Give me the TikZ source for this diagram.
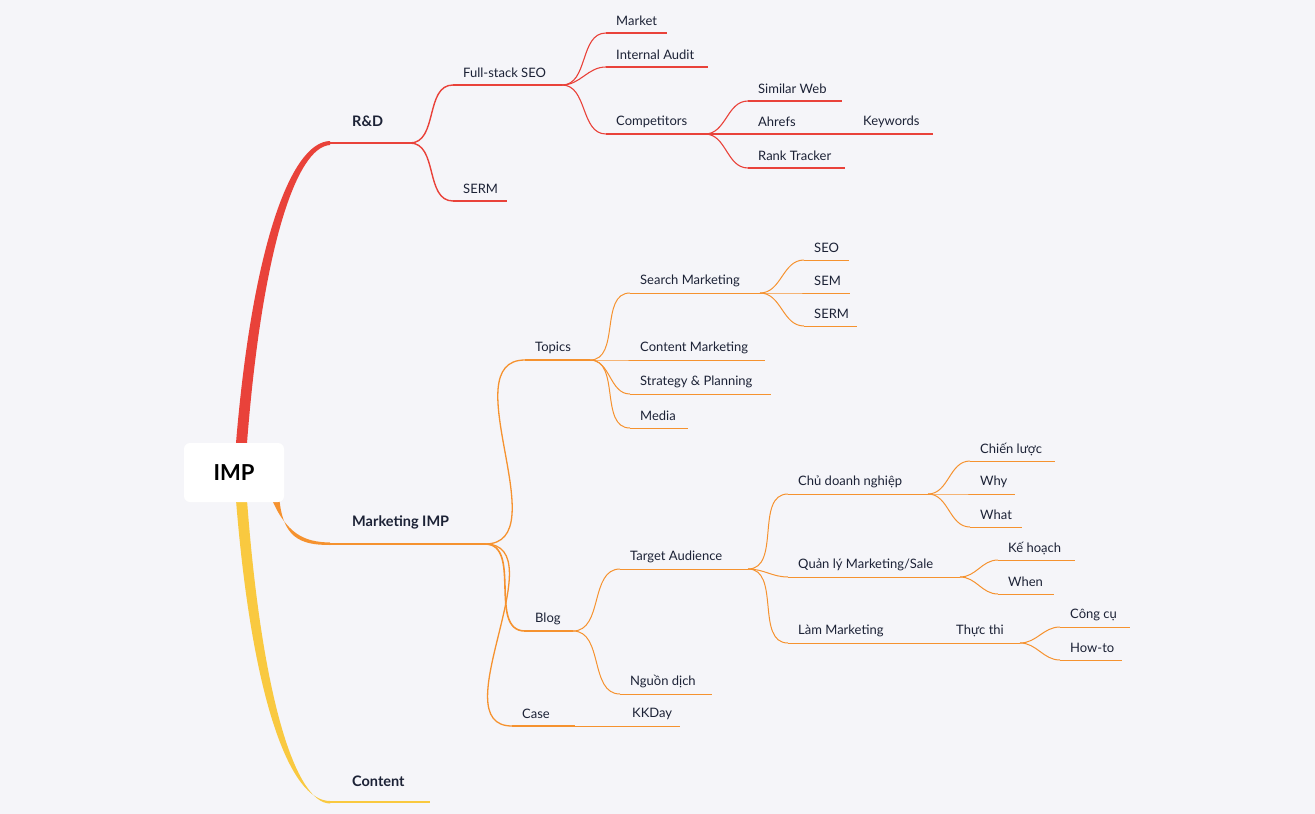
\documentclass[tikz,border=0pt]{standalone}
\usepackage{fontspec}
\setmainfont{Lato}
\definecolor{bg}{HTML}{F5F5F9}
\definecolor{rd}{HTML}{E9423A}
\definecolor{og}{HTML}{F5922F}
\definecolor{yl}{HTML}{F9C940}
\definecolor{tx}{HTML}{1C2236}
\tikzset{txt/.style={inner sep=0pt,font=\fontsize{13}{15}\selectfont,text=tx},
 big/.style={inner sep=0pt,font=\fontsize{14.5}{17}\selectfont\bfseries,text=tx},
 cr/.style={rd,line width=1.1pt},
 co/.style={og,line width=1pt}}
\newcommand\br[7]{\coordinate (#1-s) at (#2,#4); \coordinate (#1-e) at (#3,#4);
 \draw[#6,line width=#7] (#1-s)--(#1-e);
 \node[anchor=west,txt] (#1) at (#2+10,#4-12) {#5};}
\newcommand\cn[3]{\draw[#3] (#1-e) to[out=0,in=180] (#2-s);}
\begin{document}
\begin{tikzpicture}[x=1pt,y=-1pt]
\fill[bg] (0,0) rectangle (1315,814);
\useasboundingbox (0,0) rectangle (1315,814);
% main branches
\fill[rd] (236,443) .. controls (252,250) and (290,142) .. (330,141) -- (330,145) .. controls (296,147) and (262,250) .. (247,443) -- cycle;
\fill[yl] (236,500) .. controls (252,700) and (290,801) .. (330,801) -- (330,803.5) .. controls (296,803) and (262,700) .. (247,500) -- cycle;
\fill[og] (270,495) .. controls (286,535) and (305,542) .. (330,542.5) -- (330,545) .. controls (300,545) and (282,538) .. (279,495) -- cycle;
\node[draw=none,fill=white,rounded corners=6pt,minimum width=100pt,minimum height=59pt,font=\fontsize{22}{26}\selectfont\bfseries,text=black] (imp) at (234,472.5) {IMP};
% R&D
\coordinate (rd-s) at (330,143); \coordinate (rd-e) at (410,143);
\draw[rd,line width=2pt] (rd-s)--(rd-e);
\node[anchor=west,big] (rd) at (352,121) {R\&D};
\br{fs}{453}{562}{85}{Full-stack SEO}{rd}{1.4pt}
\br{serm}{453}{507}{201}{SERM}{rd}{1.4pt}
\draw[rd,line width=1.4pt] (rd-e) to[out=0,in=180] (fs-s);
\draw[rd,line width=1.4pt] (rd-e) to[out=0,in=180] (serm-s);
\br{mk}{606}{667}{33}{Market}{rd}{1.1pt}
\br{ia}{606}{708}{67}{Internal Audit}{rd}{1.1pt}
\br{cp}{606}{705}{134}{Competitors}{rd}{1.1pt}
\cn{fs}{mk}{cr}\cn{fs}{ia}{cr}\cn{fs}{cp}{cr}
\br{sw}{748}{842}{101}{Similar Web}{rd}{1.1pt}
\br{ah}{748}{848}{134}{Ahrefs}{rd}{1.1pt}
\br{rt}{748}{845}{168}{Rank Tracker}{rd}{1.1pt}
\cn{cp}{sw}{cr}\cn{cp}{ah}{cr}\cn{cp}{rt}{cr}
\br{kw}{853}{933}{134}{Keywords}{rd}{1.1pt}
\draw[cr] (ah-e)--(kw-s);
% Marketing IMP
\coordinate (mi-s) at (330,544); \coordinate (mi-e) at (485,544);
\draw[og,line width=2pt] (mi-s)--(mi-e);
\node[anchor=west,big] (mi) at (352,522) {Marketing IMP};
\br{tp}{525}{590}{360}{Topics}{og}{1.3pt}
\br{bl}{525}{573}{631}{Blog}{og}{2pt}
\br{cs}{512}{575}{726}{Case}{og}{1.3pt}
\draw[og,line width=1.3pt] (mi-e) to[out=0,in=180] (tp-s);
\draw[og,line width=1.6pt] (mi-e) to[out=0,in=180] (bl-s);
\draw[og,line width=1.3pt] (mi-e) to[out=0,in=180] (cs-s);
\br{sm}{630}{760}{293}{Search Marketing}{og}{1pt}
\br{cm}{630}{765}{360}{Content Marketing}{og}{1pt}
\br{sp}{630}{771}{394}{Strategy \& Planning}{og}{1pt}
\br{md}{630}{688}{428}{Media}{og}{1pt}
\cn{tp}{sm}{co}\cn{tp}{cm}{co}\cn{tp}{sp}{co}\cn{tp}{md}{co}
\br{seo}{804}{849}{260}{SEO}{og}{1pt}
\br{sem}{804}{850}{293}{SEM}{og}{1pt}
\br{sm2}{804}{857}{326}{SERM}{og}{1pt}
\cn{sm}{seo}{co}\cn{sm}{sem}{co}\cn{sm}{sm2}{co}
\br{ta}{620}{748}{569}{Target Audience}{og}{1pt}
\br{nd}{620}{712}{694}{Nguồn dịch}{og}{1pt}
\cn{bl}{ta}{co}\cn{bl}{nd}{co}
\br{cd}{788}{928}{494}{Chủ doanh nghiệp}{og}{1pt}
\br{ql}{788}{960}{577}{Quản lý Marketing/Sale}{og}{1pt}
\br{lm}{788}{900}{643}{Làm Marketing}{og}{1pt}
\cn{ta}{cd}{co}\cn{ta}{ql}{co}\cn{ta}{lm}{co}
\br{cl}{970}{1055}{461}{Chiến lược}{og}{1pt}
\br{why}{970}{1015}{494}{Why}{og}{1pt}
\br{what}{970}{1022}{527}{What}{og}{1pt}
\cn{cd}{cl}{co}\cn{cd}{why}{co}\cn{cd}{what}{co}
\br{kh}{998}{1075}{560}{Kế hoạch}{og}{1pt}
\br{wh}{998}{1054}{594}{When}{og}{1pt}
\cn{ql}{kh}{co}\cn{ql}{wh}{co}
\br{tt}{946}{1020}{643}{Thực thi}{og}{1pt}
\draw[co] (lm-e)--(tt-s);
\br{cc}{1060}{1130}{627}{Công cụ}{og}{1pt}
\br{ht}{1060}{1122}{660}{How-to}{og}{1pt}
\cn{tt}{cc}{co}\cn{tt}{ht}{co}
\br{kk}{622}{680}{726}{KKDay}{og}{1pt}
\draw[co] (cs-e)--(kk-s);
% Content
\coordinate (ct-s) at (330,802); \coordinate (ct-e) at (430,802);
\draw[yl,line width=2pt] (ct-s)--(ct-e);
\node[anchor=west,big] (ct) at (352,781) {Content};
\end{tikzpicture}
\end{document}
